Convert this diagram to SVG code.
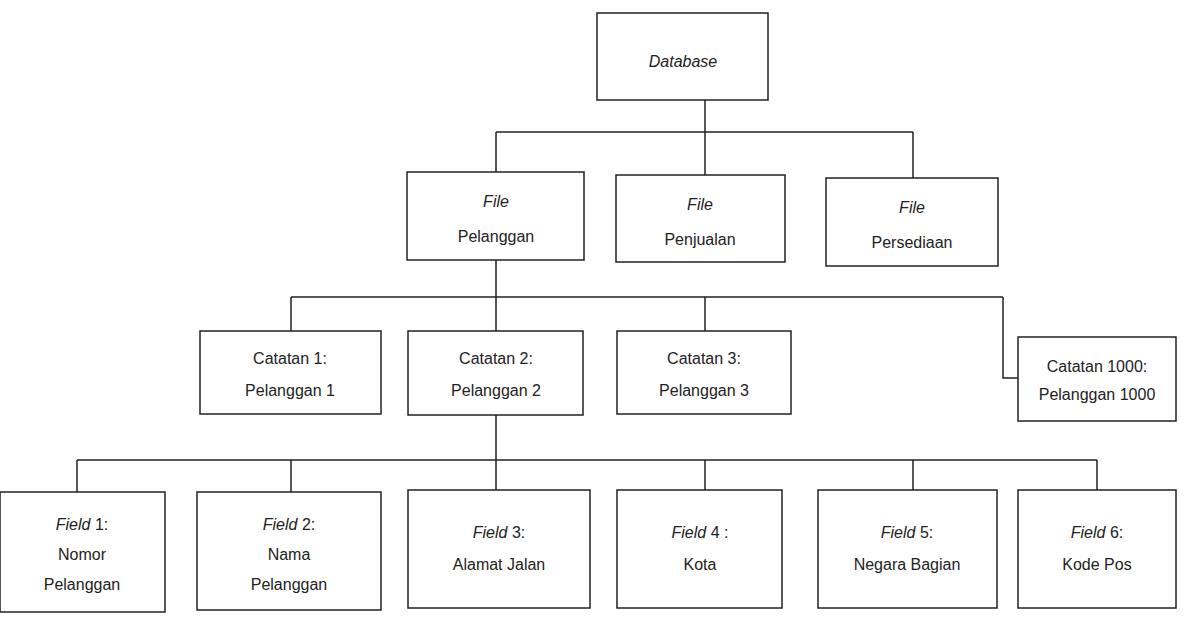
<svg xmlns="http://www.w3.org/2000/svg" width="1200" height="630" viewBox="0 0 1200 630">
<style>
.b{fill:#fff;stroke:#222;stroke-width:1.5}
.c{fill:none;stroke:#222;stroke-width:1.5}
text{font-family:"Liberation Sans",Arial,sans-serif;font-size:16px;fill:#222;text-anchor:middle}
.i{font-style:italic}
</style>
<rect width="1200" height="630" fill="#fff"/>
<g id="connectors">
<path class="c" d="M705 100V132M496 132H913M496 132V172M705 132V175M913 132V178"/>
<path class="c" d="M496 260V297M291 297H1003M291 297V331M496 297V331M705 297V331M1003 297V378H1018"/>
<path class="c" d="M496 415V460M77 460H1097M77 460V492M291 460V492M496 460V490M705 460V490M913 460V490M1097 460V490"/>
</g>
<g id="database"><rect class="b" x="597" y="13" width="171" height="87"/><text class="i" x="683" y="67">Database</text></g>
<g id="file-pelanggan"><rect class="b" x="407" y="172" width="177" height="88"/><text class="i" x="496" y="207">File</text><text x="496" y="242">Pelanggan</text></g>
<g id="file-penjualan"><rect class="b" x="616" y="175" width="169" height="87"/><text class="i" x="700" y="210">File</text><text x="700" y="245">Penjualan</text></g>
<g id="file-persediaan"><rect class="b" x="826" y="178" width="172" height="88"/><text class="i" x="912" y="213">File</text><text x="912" y="248">Persediaan</text></g>
<g id="catatan1"><rect class="b" x="200" y="331" width="181" height="83"/><text x="290" y="364">Catatan 1:</text><text x="290" y="396">Pelanggan 1</text></g>
<g id="catatan2"><rect class="b" x="408" y="331" width="175" height="84"/><text x="496" y="364">Catatan 2:</text><text x="496" y="396">Pelanggan 2</text></g>
<g id="catatan3"><rect class="b" x="617" y="331" width="174" height="83"/><text x="704" y="364">Catatan 3:</text><text x="704" y="396">Pelanggan 3</text></g>
<g id="catatan1000"><rect class="b" x="1018" y="337" width="158" height="84"/><text x="1097" y="372">Catatan 1000:</text><text x="1097" y="400">Pelanggan 1000</text></g>
<g id="field1"><rect class="b" x="0" y="492" width="165" height="120"/><text x="82" y="530"><tspan class="i">Field</tspan> 1:</text><text x="82" y="560">Nomor</text><text x="82" y="590">Pelanggan</text></g>
<g id="field2"><rect class="b" x="197" y="492" width="184" height="118"/><text x="289" y="530"><tspan class="i">Field</tspan> 2:</text><text x="289" y="560">Nama</text><text x="289" y="590">Pelanggan</text></g>
<g id="field3"><rect class="b" x="408" y="490" width="182" height="118"/><text x="499" y="538"><tspan class="i">Field</tspan> 3:</text><text x="499" y="570">Alamat Jalan</text></g>
<g id="field4"><rect class="b" x="617" y="490" width="165" height="118"/><text x="700" y="538"><tspan class="i">Field</tspan> 4 :</text><text x="700" y="570">Kota</text></g>
<g id="field5"><rect class="b" x="818" y="490" width="179" height="118"/><text x="907" y="538"><tspan class="i">Field</tspan> 5:</text><text x="907" y="570">Negara Bagian</text></g>
<g id="field6"><rect class="b" x="1018" y="490" width="158" height="118"/><text x="1097" y="538"><tspan class="i">Field</tspan> 6:</text><text x="1097" y="570">Kode Pos</text></g>
</svg>
